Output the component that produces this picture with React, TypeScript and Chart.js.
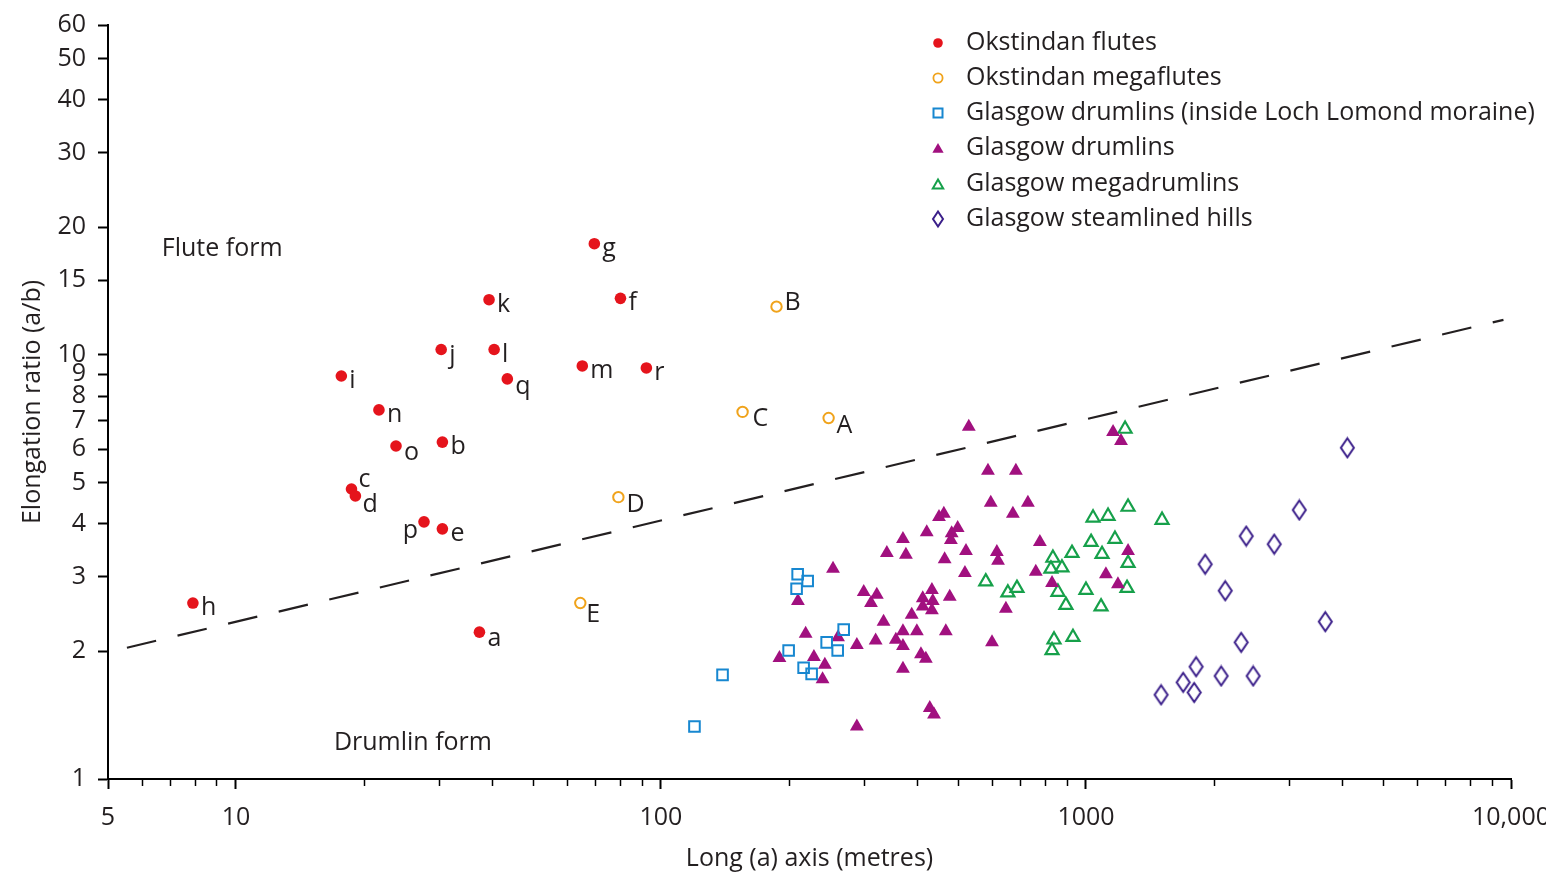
import React, { useEffect, useRef } from 'react';
import { Chart, registerables } from 'chart.js';

Chart.register(...registerables);

const FONT = '"Open Sans", "Noto Sans", sans-serif';
const TEXT = '#231f20';
const FS = 25;

// ---- axis ticks ----
const xTickValues = [5, 6, 7, 8, 9, 10, 20, 30, 40, 50, 60, 70, 80, 90, 100, 200, 300, 400, 500, 600, 700, 800, 900, 1000, 2000, 3000, 4000, 5000, 6000, 7000, 8000, 9000, 10000];
const xLabelledTicks = [5, 10, 100, 1000, 10000];
const yTickValues = [1, 2, 3, 4, 5, 6, 7, 8, 9, 10, 15, 20, 30, 40, 50, 60];

// ---- Okstindan flutes (a–r) ----
const fluteLabels = ['a', 'b', 'c', 'd', 'e', 'f', 'g', 'h', 'i', 'j', 'k', 'l', 'm', 'n', 'o', 'p', 'q', 'r'];
const fluteLength = [37.4, 30.6, 18.7, 19.1, 30.6, 80.3, 69.7, 7.92, 17.7, 30.4, 39.4, 40.5, 65.3, 21.7, 23.8, 27.7, 43.5, 92.4];
const fluteRatio = [2.22, 6.23, 4.83, 4.65, 3.89, 13.6, 18.3, 2.6, 8.92, 10.3, 13.5, 10.3, 9.42, 7.42, 6.1, 4.04, 8.78, 9.32];

// ---- Okstindan megaflutes (A–E) ----
const megafluteLabels = ['A', 'B', 'C', 'D', 'E'];
const megafluteLength = [248, 187, 155.6, 79.4, 64.6];
const megafluteRatio = [7.1, 13.0, 7.34, 4.62, 2.6];

// ---- Glasgow drumlins inside Loch Lomond moraine ----
const insideLength = [209.7, 221.4, 208.5, 269.1, 245.4, 260.5, 199.7, 216.6, 226.2, 139.6, 119.9];
const insideRatio = [3.04, 2.93, 2.81, 2.25, 2.1, 2.01, 2.01, 1.83, 1.77, 1.76, 1.33];

// ---- Glasgow drumlins ----
const drumlinLength = [530, 588, 684, 597, 730, 673, 451, 463, 499, 483, 481, 422, 371, 340, 377, 465, 522, 519, 617, 621, 779, 762, 832, 254, 210, 300, 322, 312, 434, 413, 436, 413, 434, 478, 648, 389, 334, 219, 261, 289, 320, 371, 357, 371, 400, 468, 601, 229, 243, 190, 240, 409, 420, 371, 289, 429, 439, 1158, 1209, 1256, 1114, 1189];
const drumlinRatio = [6.77, 5.33, 5.33, 4.48, 4.48, 4.22, 4.15, 4.22, 3.91, 3.8, 3.66, 3.82, 3.68, 3.41, 3.38, 3.3, 3.45, 3.06, 3.43, 3.27, 3.62, 3.08, 2.9, 3.13, 2.63, 2.76, 2.72, 2.6, 2.79, 2.67, 2.63, 2.55, 2.5, 2.69, 2.52, 2.44, 2.35, 2.2, 2.16, 2.07, 2.12, 2.23, 2.13, 2.06, 2.23, 2.23, 2.1, 1.94, 1.86, 1.93, 1.72, 1.97, 1.92, 1.82, 1.33, 1.47, 1.42, 6.58, 6.27, 3.45, 3.04, 2.88];

// ---- Glasgow megadrumlins ----
const megadrumlinLength = [1236, 1256, 1039, 1127, 1028, 1170, 927, 1091, 836, 827, 878, 1256, 581, 655, 688, 859, 1000, 1249, 897, 1085, 841, 932, 832, 1510];
const megadrumlinRatio = [6.69, 4.38, 4.13, 4.17, 3.62, 3.68, 3.41, 3.39, 3.32, 3.13, 3.15, 3.23, 2.92, 2.75, 2.82, 2.76, 2.79, 2.82, 2.57, 2.55, 2.13, 2.16, 2.01, 4.08];

// ---- Glasgow streamlined hills ----
const hillLength = [4120, 3176, 2382, 2773, 1907, 2126, 3656, 2318, 1816, 2080, 2474, 1693, 1797, 1502];
const hillRatio = [6.04, 4.31, 3.74, 3.58, 3.21, 2.78, 2.35, 2.1, 1.84, 1.75, 1.75, 1.69, 1.6, 1.58];

// ---- flute / drumlin boundary ----
const boundaryLength = [5.54, 9600];
const boundaryRatio = [2.04, 12.1];

// ---- annotations ----
const fluteFormAt = { x: 6.69, y: 17.8 };
const drumlinFormAt = { x: 17.0, y: 1.22 };

const legendItems = [
  'Okstindan flutes',
  'Okstindan megaflutes',
  'Glasgow drumlins (inside Loch Lomond moraine)',
  'Glasgow drumlins',
  'Glasgow megadrumlins',
  'Glasgow steamlined hills',
];

const COLORS = {
  red: '#e5141c',
  orange: '#f0a31b',
  blue: '#1787d0',
  magenta: '#a1107f',
  green: '#16a04a',
  indigo: '#3b1f8a',
};

// label placement tweaks (presentation only)
const labelOffsets: Record<string, [number, number, CanvasTextAlign?]> = {
  c: [7, -9],
  d: [7, 9],
  p: [-6, 9, 'right'],
  q: [8, 8],
  o: [8, 7],
  B: [8, -4],
  C: [10, 7],
  A: [8, 8],
  D: [8, 8],
  E: [6, 12],
  j: [8, 6],
  a: [8, 7],
};

const pts = (xs: number[], ys: number[]) => xs.map((x, i) => ({ x, y: ys[i] }));

function makeDiamond(w: number, h: number, color: string, lw: number) {
  const c = document.createElement('canvas');
  c.width = Math.ceil(w + lw * 2);
  c.height = Math.ceil(h + lw * 2);
  const g = c.getContext('2d')!;
  g.strokeStyle = color;
  g.lineWidth = lw;
  const cx = c.width / 2;
  const cy = c.height / 2;
  g.beginPath();
  g.moveTo(cx, cy - h / 2);
  g.lineTo(cx + w / 2, cy);
  g.lineTo(cx, cy + h / 2);
  g.lineTo(cx - w / 2, cy);
  g.closePath();
  g.stroke();
  return c;
}

function triPath(ctx: CanvasRenderingContext2D, x: number, y: number, r: number) {
  ctx.beginPath();
  for (let k = 0; k < 3; k++) {
    const a = (k * 2 * Math.PI) / 3;
    const px = x + Math.sin(a) * r;
    const py = y - Math.cos(a) * r;
    if (k === 0) ctx.moveTo(px, py);
    else ctx.lineTo(px, py);
  }
  ctx.closePath();
}

const decorPlugin = {
  id: 'decor',
  afterDatasetsDraw(chart: any) {
    const ctx: CanvasRenderingContext2D = chart.ctx;
    const xs = chart.scales.x;
    const ys = chart.scales.y;
    ctx.save();
    ctx.font = `${FS}px ${FONT}`;
    ctx.fillStyle = TEXT;
    ctx.textBaseline = 'middle';
    const labelSets: [number, string[]][] = [
      [0, fluteLabels],
      [1, megafluteLabels],
    ];
    labelSets.forEach(([di, labels]) => {
      const meta = chart.getDatasetMeta(di);
      meta.data.forEach((el: any, i: number) => {
        const lab = labels[i];
        const off = labelOffsets[lab] || [8, 5];
        ctx.textAlign = off[2] || 'left';
        ctx.fillText(lab, el.x + off[0], el.y + off[1]);
      });
    });
    ctx.textAlign = 'left';
    ctx.fillText('Flute form', xs.getPixelForValue(fluteFormAt.x), ys.getPixelForValue(fluteFormAt.y));
    ctx.fillText('Drumlin form', xs.getPixelForValue(drumlinFormAt.x), ys.getPixelForValue(drumlinFormAt.y));

    // minor x ticks
    ctx.strokeStyle = '#000';
    ctx.lineWidth = 1.5;
    const yb = chart.chartArea.bottom;
    xTickValues.forEach((v) => {
      if (xLabelledTicks.includes(v)) return;
      const px = Math.round(xs.getPixelForValue(v)) + 0.5;
      ctx.beginPath();
      ctx.moveTo(px, yb);
      ctx.lineTo(px, yb + 7);
      ctx.stroke();
    });

    // legend
    const mx = 938;
    const tx = 966;
    const rowY = [43, 78, 113, 148, 184, 219];
    legendItems.forEach((t, i) => {
      const y = rowY[i];
      ctx.save();
      if (i === 0) {
        ctx.fillStyle = COLORS.red;
        ctx.beginPath();
        ctx.arc(mx, y, 4.8, 0, Math.PI * 2);
        ctx.fill();
      } else if (i === 1) {
        ctx.strokeStyle = COLORS.orange;
        ctx.lineWidth = 1.8;
        ctx.beginPath();
        ctx.arc(mx, y, 4.6, 0, Math.PI * 2);
        ctx.stroke();
      } else if (i === 2) {
        ctx.strokeStyle = COLORS.blue;
        ctx.lineWidth = 2;
        ctx.strokeRect(mx - 4.5, y - 4.5, 9, 9);
      } else if (i === 3) {
        ctx.fillStyle = COLORS.magenta;
        triPath(ctx, mx, y + 1.5, 6.5);
        ctx.fill();
      } else if (i === 4) {
        ctx.strokeStyle = COLORS.green;
        ctx.lineWidth = 2;
        triPath(ctx, mx, y + 1.5, 6);
        ctx.stroke();
      } else {
        ctx.strokeStyle = COLORS.indigo;
        ctx.lineWidth = 2;
        ctx.beginPath();
        ctx.moveTo(mx, y - 7.5);
        ctx.lineTo(mx + 5, y);
        ctx.lineTo(mx, y + 7.5);
        ctx.lineTo(mx - 5, y);
        ctx.closePath();
        ctx.stroke();
      }
      ctx.restore();
      ctx.fillStyle = TEXT;
      ctx.textAlign = 'left';
      ctx.fillText(t, tx, y);
    });
    ctx.restore();
  },
};

export default function App() {
  const ref = useRef<HTMLCanvasElement>(null);

  useEffect(() => {
    const canvas = ref.current;
    if (!canvas) return;
    const diamond = makeDiamond(13, 19, COLORS.indigo, 2);

    const chart = new Chart(canvas, {
      type: 'scatter',
      data: {
        datasets: [
          {
            label: 'Okstindan flutes',
            data: pts(fluteLength, fluteRatio),
            pointStyle: 'circle',
            pointRadius: 5.8,
            backgroundColor: COLORS.red,
            borderColor: COLORS.red,
            borderWidth: 0,
          },
          {
            label: 'Okstindan megaflutes',
            data: pts(megafluteLength, megafluteRatio),
            pointStyle: 'circle',
            pointRadius: 5.2,
            backgroundColor: 'rgba(0,0,0,0)',
            borderColor: COLORS.orange,
            borderWidth: 2,
          },
          {
            label: 'Glasgow drumlins (inside Loch Lomond moraine)',
            data: pts(insideLength, insideRatio),
            pointStyle: 'rect',
            pointRadius: 7.5,
            backgroundColor: 'rgba(0,0,0,0)',
            borderColor: COLORS.blue,
            borderWidth: 2,
          },
          {
            label: 'Glasgow drumlins',
            data: pts(drumlinLength, drumlinRatio),
            pointStyle: 'triangle',
            pointRadius: 8,
            backgroundColor: COLORS.magenta,
            borderColor: COLORS.magenta,
            borderWidth: 0,
          },
          {
            label: 'Glasgow megadrumlins',
            data: pts(megadrumlinLength, megadrumlinRatio),
            pointStyle: 'triangle',
            pointRadius: 7.5,
            backgroundColor: 'rgba(0,0,0,0)',
            borderColor: COLORS.green,
            borderWidth: 2.2,
          },
          {
            label: 'Glasgow steamlined hills',
            data: pts(hillLength, hillRatio),
            pointStyle: diamond as any,
            pointRadius: 9,
            backgroundColor: 'rgba(0,0,0,0)',
            borderColor: COLORS.indigo,
            borderWidth: 2,
          },
          {
            type: 'line' as any,
            label: 'boundary',
            data: pts(boundaryLength, boundaryRatio),
            showLine: true,
            borderColor: TEXT,
            borderWidth: 2.2,
            borderDash: [30, 22],
            pointRadius: 0,
            fill: false,
          } as any,
        ],
      },
      options: {
        responsive: false,
        animation: false,
        events: [],
        layout: { padding: { top: 25, right: 35, left: 0, bottom: 0 } },
        plugins: {
          legend: { display: false },
          tooltip: { enabled: false },
        },
        scales: {
          x: {
            type: 'logarithmic',
            min: 5,
            max: 10000,
            afterBuildTicks: (s: any) => {
              s.ticks = xTickValues.map((v) => ({ value: v }));
            },
            afterFit: (s: any) => {
              s.height = 115;
              s.paddingLeft = 0;
              s.paddingRight = 0;
            },
            ticks: {
              autoSkip: false,
              maxRotation: 0,
              minRotation: 0,
              padding: 14,
              color: TEXT,
              font: { family: FONT, size: FS },
              callback: (v: any) => {
                const n = Number(v);
                if (!xLabelledTicks.includes(n)) return '';
                return n === 10000 ? '10,000' : String(n);
              },
            },
            grid: {
              drawOnChartArea: false,
              drawTicks: true,
              tickLength: 10,
              tickWidth: 2,
              tickColor: (c: any) => (c.tick && xLabelledTicks.includes(c.tick.value) ? '#000' : 'rgba(0,0,0,0)'),
            },
            border: { display: true, color: '#000', width: 2 },
            title: {
              display: true,
              text: 'Long (a) axis (metres)',
              color: TEXT,
              font: { family: FONT, size: FS },
              padding: { top: 0, bottom: 20 },
            },
          },
          y: {
            type: 'logarithmic',
            min: 1,
            max: 60,
            afterBuildTicks: (s: any) => {
              s.ticks = yTickValues.map((v) => ({ value: v }));
            },
            afterFit: (s: any) => {
              s.width = 108;
              s.paddingTop = 0;
              s.paddingBottom = 0;
            },
            ticks: {
              autoSkip: false,
              padding: 12,
              color: TEXT,
              font: { family: FONT, size: FS },
              callback: (v: any) => String(Number(v)),
            },
            grid: {
              drawOnChartArea: false,
              drawTicks: true,
              tickLength: 10,
              tickWidth: 2,
              tickColor: '#000',
            },
            border: { display: true, color: '#000', width: 2 },
            title: {
              display: true,
              text: 'Elongation ratio (a/b)',
              color: TEXT,
              font: { family: FONT, size: FS },
              padding: { top: 18, bottom: 0 },
            },
          },
        },
      },
      plugins: [decorPlugin],
    });

    return () => chart.destroy();
  }, []);

  return (
    <div style={{ position: 'fixed', left: 0, top: 0, width: 1546, height: 894, background: '#fff' }}>
      <canvas ref={ref} width={1546} height={894} style={{ display: 'block', width: 1546, height: 894 }} />
    </div>
  );
}
